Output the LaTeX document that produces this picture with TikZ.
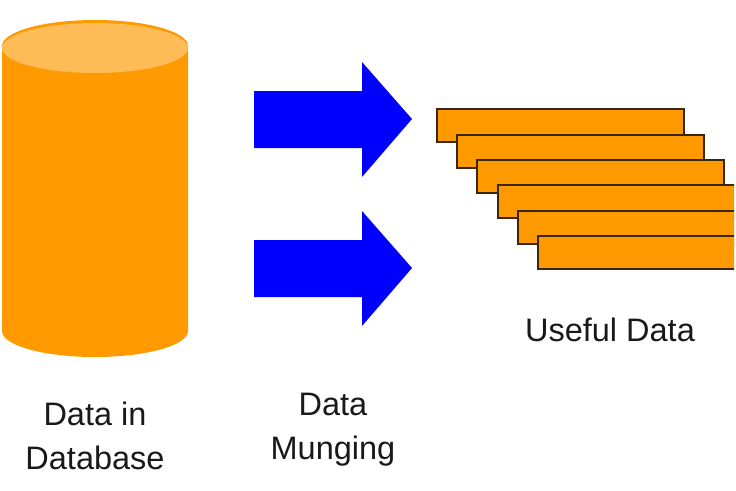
\documentclass[tikz,border=0pt]{standalone}
\usepackage{fontspec}
\setmainfont{Liberation Sans}
\definecolor{dataorange}{HTML}{FF9900}
\definecolor{datatop}{HTML}{FFBB55}
\definecolor{barline}{HTML}{3A2608}
\definecolor{munge}{HTML}{0000FF}
\tikzset{
    caption/.style={font=\fontsize{32.5}{44}\selectfont, align=center, text=black!90},
    databar/.style={draw=barline, line width=2pt, fill=dataorange, anchor=north west, minimum width=247pt, minimum height=33pt, inner sep=0pt}
}
\begin{document}
\begin{tikzpicture}[x=1pt, y=-1pt]
    \useasboundingbox (0, 0) rectangle (736, 490);

    % database cylinder
    \fill[dataorange] (2, 46) arc[start angle=180, end angle=0, x radius=93, y radius=-26] -- (188, 331) arc[start angle=360, end angle=180, x radius=93, y radius=-26] -- cycle;
    \fill[datatop] (95, 48) ellipse[x radius=93, y radius=25];
    \node[caption] (database) at (95, 436) {Data in\\Database};

    % arrows
    \fill[munge] (254, 91) -- (362, 91) -- (362, 62) -- (412, 119) -- (362, 177) -- (362, 148) -- (254, 148) -- cycle;
    \fill[munge] (254, 240) -- (362, 240) -- (362, 211) -- (412, 268) -- (362, 326) -- (362, 297) -- (254, 297) -- cycle;
    \node[caption] (munging) at (333, 430) {Data\\Munging};

    % bars
    \begin{scope}
        \clip (420, 90) rectangle (734, 290);
        \node[databar] (bar1) at (436, 108) {};
        \node[databar] (bar2) at (456, 134) {};
        \node[databar] (bar3) at (476, 159) {};
        \node[databar] (bar4) at (497, 184) {};
        \node[databar] (bar5) at (517, 210) {};
        \node[databar] (bar6) at (537, 235) {};
    \end{scope}
    \node[caption] (useful) at (610, 330) {Useful Data};
\end{tikzpicture}
\end{document}
